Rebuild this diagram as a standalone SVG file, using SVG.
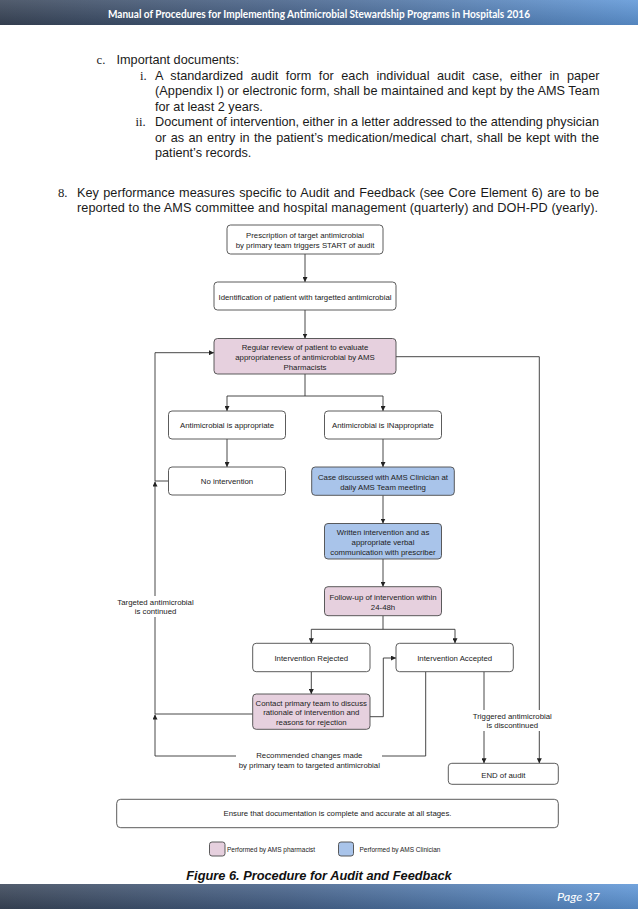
<svg xmlns="http://www.w3.org/2000/svg" width="638" height="909" viewBox="0 0 638 909">
<defs>
<linearGradient id="band" x1="0" y1="0" x2="1" y2="0">
<stop offset="0" stop-color="#3a4659"/>
<stop offset="0.45" stop-color="#46628a"/>
<stop offset="1" stop-color="#5f97d8"/>
</linearGradient>
<linearGradient id="shade" x1="0" y1="0" x2="0" y2="1">
<stop offset="0" stop-color="#ffffff" stop-opacity="0.12"/>
<stop offset="1" stop-color="#000000" stop-opacity="0.12"/>
</linearGradient>
<marker id="ah" viewBox="0 0 10 10" refX="10" refY="5" markerWidth="5" markerHeight="5" markerUnits="userSpaceOnUse" orient="auto">
<path d="M0,0 L10,5 L0,10 z" fill="#222"/>
</marker>
<style>
.body{font-family:"Liberation Sans",Arial,Helvetica,sans-serif;font-size:12.7px;fill:#1a1a1a}
.num{font-family:"Liberation Serif","Times New Roman",serif;font-size:12.7px;fill:#1a1a1a}
.nd{fill:#ffffff;stroke:#4a4a4a;stroke-width:0.9}
.pink{fill:#e6d0de}
.blue{fill:#a9c4ea}
.ft{font-family:"Liberation Sans",Arial,Helvetica,sans-serif;font-size:7.8px;fill:#222;text-anchor:middle}
.lg{font-family:"Liberation Sans",Arial,Helvetica,sans-serif;font-size:6.5px;fill:#222}
.cn{fill:none;stroke:#333;stroke-width:0.9}
.ar{marker-end:url(#ah)}
.bg{fill:#ffffff}
</style>
</defs>
<rect width="638" height="909" fill="#ffffff"/>
<g id="header">
<rect x="0" y="0" width="638" height="25" fill="url(#band)"/>
<rect x="0" y="0" width="638" height="25" fill="url(#shade)"/>
<text x="319" y="17.5" text-anchor="middle" font-family="Lato,'Liberation Sans',sans-serif" font-weight="bold" font-size="10.5" fill="#ffffff" textLength="422" lengthAdjust="spacingAndGlyphs">Manual of Procedures for Implementing Antimicrobial Stewardship Programs in Hospitals 2016</text>
</g>
<g id="bodytext">
<text class="num" x="96.5" y="64">c.</text>
<text class="body" x="116.5" y="64">Important documents:</text>
<text class="num" x="140" y="79.5">i.</text>
<text class="body" x="155" y="79.5" word-spacing="4" textLength="444.5" lengthAdjust="spacing">A standardized audit form for each individual audit case, either in paper</text>
<text class="body" x="155" y="95" textLength="444.5" lengthAdjust="spacing">(Appendix I) or electronic form, shall be maintained and kept by the AMS Team</text>
<text class="body" x="155" y="110.5">for at least 2 years.</text>
<text class="num" x="135.5" y="126">ii.</text>
<text class="body" x="155" y="126" textLength="444" lengthAdjust="spacing">Document of intervention, either in a letter addressed to the attending physician</text>
<text class="body" x="155" y="141.5" word-spacing="0.9" textLength="444" lengthAdjust="spacing">or as an entry in the patient’s medication/medical chart, shall be kept with the</text>
<text class="body" x="155" y="157">patient’s records.</text>
<text class="num" x="58" y="196.5">8.</text>
<text class="body" x="77" y="196.5" word-spacing="0.8" textLength="522" lengthAdjust="spacing">Key performance measures specific to Audit and Feedback (see Core Element 6) are to be</text>
<text class="body" x="77" y="212" textLength="521" lengthAdjust="spacing">reported to the AMS committee and hospital management (quarterly) and DOH-PD (yearly).</text>
</g>
<g id="connectors">
<path class="cn ar" d="M305 254 V282"/>
<path class="cn ar" d="M305 310 V338.5"/>
<path class="cn ar" d="M305 374 V396 H227 V411"/>
<path class="cn ar" d="M305 396 H383 V411"/>
<path class="cn ar" d="M227 439 V467"/>
<path class="cn ar" d="M383 439 V467"/>
<path class="cn ar" d="M383 495.3 V523.5"/>
<path class="cn ar" d="M383 559 V586.7"/>
<path class="cn ar" d="M383 615.7 V629.3 H311.3 V643.3"/>
<path class="cn ar" d="M383 629.3 H455 V643.3"/>
<path class="cn ar" d="M311.3 671.7 V694"/>
<path class="cn ar" d="M370 716.7 H383.3 V658 H396"/>
<path class="cn ar" d="M168.5 481 H155 V352.7 H214"/>
<path class="cn ar" d="M252.7 714 H155 V481.5"/>
<path class="cn ar" d="M425.7 671.7 V756 H155 V714.5"/>
<path class="cn ar" d="M484 671.7 V763.3"/>
<path class="cn ar" d="M396 356.7 H539.3 V763.3"/>
<g id="lbl-continued">
<rect class="bg" x="116" y="596" width="80" height="21"/>
<text class="ft" x="155.5" y="604.5">Targeted antimicrobial</text>
<text class="ft" x="155.5" y="614">is continued</text>
</g>
<g id="lbl-recommended">
<rect class="bg" x="236" y="749" width="146" height="21"/>
<text class="ft" x="309.3" y="758">Recommended changes made</text>
<text class="ft" x="309.3" y="767.5">by primary team to targeted antimicrobial</text>
</g>
<g id="lbl-triggered">
<rect class="bg" x="471" y="710" width="83" height="21"/>
<text class="ft" x="512.3" y="719">Triggered antimicrobial</text>
<text class="ft" x="512.3" y="728">is discontinued</text>
</g>
</g>
<g id="n-start">
<rect class="nd" x="227" y="225" width="156" height="29" rx="3.5"/>
<text class="ft" x="305" y="238">Prescription of target antimicrobial</text>
<text class="ft" x="305" y="248">by primary team triggers START of audit</text>
</g>
<g id="n-identify">
<rect class="nd" x="214" y="282" width="182" height="28" rx="3.5"/>
<text class="ft" x="305" y="299.5">Identification of patient with targetted antimicrobial</text>
</g>
<g id="n-review">
<rect class="nd pink" x="214" y="338.5" width="182" height="35.5" rx="3.5"/>
<text class="ft" x="305" y="349.5">Regular review of patient to evaluate</text>
<text class="ft" x="305" y="359.5">appropriateness of antimicrobial by AMS</text>
<text class="ft" x="305" y="369.5">Pharmacists</text>
</g>
<g id="n-appropriate">
<rect class="nd" x="168.5" y="411" width="117" height="28" rx="3.5"/>
<text class="ft" x="227" y="428">Antimicrobial is appropriate</text>
</g>
<g id="n-inappropriate">
<rect class="nd" x="324.5" y="411" width="117" height="28" rx="3.5"/>
<text class="ft" x="383" y="428">Antimicrobial is INappropriate</text>
</g>
<g id="n-nointervention">
<rect class="nd" x="168.5" y="467" width="117" height="28" rx="3.5"/>
<text class="ft" x="227" y="483.5">No intervention</text>
</g>
<g id="n-case">
<rect class="nd blue" x="311.7" y="467" width="142.6" height="28.3" rx="3.5"/>
<text class="ft" x="383" y="479.5">Case discussed with AMS Clinician at</text>
<text class="ft" x="383" y="489.5">daily AMS Team meeting</text>
</g>
<g id="n-written">
<rect class="nd blue" x="324.5" y="523.5" width="117" height="35.5" rx="3.5"/>
<text class="ft" x="383" y="535">Written intervention and as</text>
<text class="ft" x="383" y="545">appropriate verbal</text>
<text class="ft" x="383" y="555">communication with prescriber</text>
</g>
<g id="n-followup">
<rect class="nd pink" x="324.5" y="586.7" width="117" height="29" rx="3.5"/>
<text class="ft" x="383" y="599.5">Follow-up of intervention within</text>
<text class="ft" x="383" y="609.5">24-48h</text>
</g>
<g id="n-rejected">
<rect class="nd" x="252.7" y="643.3" width="117.3" height="28.4" rx="3.5"/>
<text class="ft" x="311.3" y="661">Intervention Rejected</text>
</g>
<g id="n-accepted">
<rect class="nd" x="396" y="643.3" width="117.3" height="28.4" rx="3.5"/>
<text class="ft" x="454.7" y="661">Intervention Accepted</text>
</g>
<g id="n-contact">
<rect class="nd pink" x="252.7" y="694" width="117.3" height="35.3" rx="3.5"/>
<text class="ft" x="311.3" y="705.5">Contact primary team to discuss</text>
<text class="ft" x="311.3" y="715">rationale of intervention and</text>
<text class="ft" x="311.3" y="724.5">reasons for rejection</text>
</g>
<g id="n-end">
<rect class="nd" x="448.3" y="763.3" width="110" height="21" rx="3.5"/>
<text class="ft" x="503.3" y="777.5">END of audit</text>
</g>
<g id="n-ensure">
<rect class="nd" x="116.7" y="799.3" width="441.6" height="28.4" rx="4"/>
<text class="ft" x="337.5" y="816">Ensure that documentation is complete and accurate at all stages.</text>
</g>
<g id="legend">
<rect class="nd pink" x="209.5" y="842" width="15.5" height="14" rx="2.5"/>
<text class="lg" x="227" y="851.5">Performed by AMS pharmacist</text>
<rect class="nd blue" x="338.5" y="842" width="15" height="14" rx="2.5"/>
<text class="lg" x="359.5" y="851.5">Performed by AMS Clinician</text>
</g>
<g id="caption">
<text x="319" y="880" text-anchor="middle" font-family="'Liberation Sans',Arial,sans-serif" font-weight="bold" font-style="italic" font-size="12.8" fill="#111">Figure 6. Procedure for Audit and Feedback</text>
</g>
<g id="footer">
<rect x="0" y="884" width="638" height="25" fill="url(#band)"/>
<rect x="0" y="884" width="638" height="25" fill="url(#shade)"/>
<text x="600" y="900.5" text-anchor="end" font-family="Lato,'Liberation Sans',sans-serif" font-style="italic" font-size="11.5" fill="#ffffff" textLength="43" lengthAdjust="spacingAndGlyphs">Page 37</text>
</g>
</svg>
